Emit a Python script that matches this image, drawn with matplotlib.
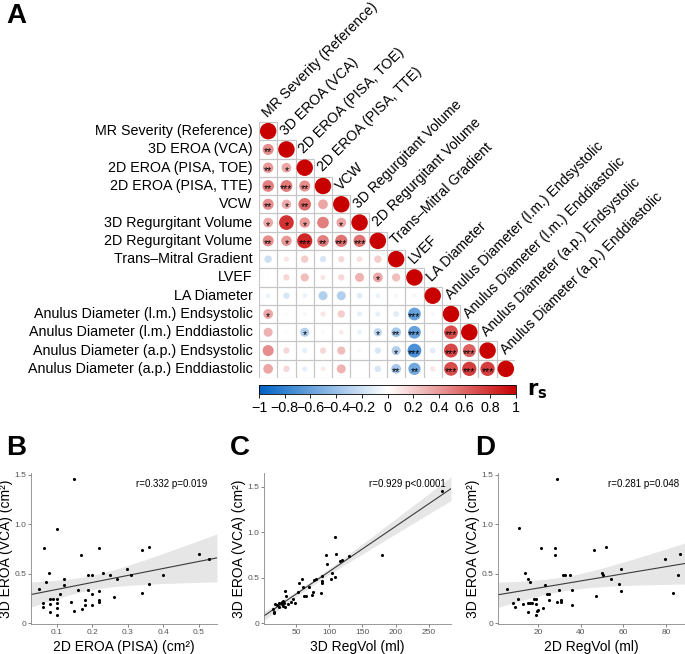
import numpy as np
import matplotlib
matplotlib.use("Agg")
import matplotlib.pyplot as plt
from matplotlib.cm import ScalarMappable
from matplotlib.colors import LinearSegmentedColormap, Normalize
from matplotlib.patches import Circle, Rectangle
from matplotlib.ticker import FuncFormatter

plt.rcParams["font.family"] = ["Liberation Sans", "DejaVu Sans"]

# --- panel A: Spearman correlation matrix (lower triangle) ---
VARS = [
    "MR Severity (Reference)",
    "3D EROA (VCA)",
    "2D EROA (PISA, TOE)",
    "2D EROA (PISA, TTE)",
    "VCW",
    "3D Regurgitant Volume",
    "2D Regurgitant Volume",
    "Trans\u2013Mitral Gradient",
    "LVEF",
    "LA Diameter",
    "Anulus Diameter (l.m.) Endsystolic",
    "Anulus Diameter (l.m.) Enddiastolic",
    "Anulus Diameter (a.p.) Endsystolic",
    "Anulus Diameter (a.p.) Enddiastolic",
]

R_LOWER = [
    [],
    [0.45],
    [0.40, 0.35],
    [0.50, 0.52, 0.45],
    [0.45, 0.33, 0.58, 0.35],
    [0.35, 0.80, 0.40, 0.50, 0.35],
    [0.45, 0.40, 0.85, 0.50, 0.55, 0.55],
    [-0.20, 0.10, 0.20, -0.15, 0.15, 0.12, 0.20],
    [0.02, 0.15, 0.25, 0.10, 0.15, 0.30, 0.35, 0.25],
    [-0.08, -0.15, -0.08, -0.30, -0.30, -0.12, -0.08, -0.05, -0.05],
    [0.35, 0.03, -0.05, 0.10, 0.20, -0.10, -0.10, -0.12, -0.60, -0.05],
    [0.30, 0.02, -0.30, 0.03, 0.08, -0.08, -0.25, -0.35, -0.60, 0.04, 0.70],
    [0.45, 0.15, -0.10, 0.15, 0.25, 0.04, -0.15, -0.30, -0.70, -0.12, 0.72, 0.62],
    [0.35, 0.15, -0.10, 0.08, 0.30, 0.02, -0.15, -0.35, -0.55, 0.10, 0.70, 0.75, 0.75],
]

STARS = [
    [],
    ["**"],
    ["**", "*"],
    ["**", "***", "**"],
    ["**", "*", "**", ""],
    ["*", "*", "*", "", "*"],
    ["**", "*", "***", "**", "***", "***"],
    ["", "", "", "", "", "", ""],
    ["", "", "", "", "", "", "*", ""],
    ["", "", "", "", "", "", "", "", ""],
    ["*", "", "", "", "", "", "", "", "***", ""],
    ["", "", "*", "", "", "", "*", "**", "***", "", "***"],
    ["", "", "", "", "", "", "", "*", "***", "", "***", "***"],
    ["", "", "", "", "", "", "", "**", "**", "", "***", "***", "***"],
]

CBAR_TICKS = [-1, -0.8, -0.6, -0.4, -0.2, 0, 0.2, 0.4, 0.6, 0.8, 1]

# --- panel B: 3D EROA vs 2D EROA (PISA) ---
b_x = [0.149, 0.10, 0.063, 0.169, 0.22, 0.339, 0.359, 0.50, 0.529, 0.40,
       0.359, 0.339, 0.299, 0.309, 0.27, 0.25, 0.23, 0.189, 0.20, 0.079,
       0.12, 0.12, 0.109, 0.05, 0.07, 0.159, 0.189, 0.20, 0.22, 0.26,
       0.22, 0.22, 0.18, 0.18, 0.20, 0.17, 0.149, 0.139, 0.10, 0.10,
       0.10, 0.10, 0.08, 0.08, 0.08, 0.09, 0.06, 0.06]
b_y = [1.456, 0.957, 0.758, 0.688, 0.758, 0.735, 0.768, 0.698, 0.647, 0.489,
       0.398, 0.307, 0.549, 0.482, 0.448, 0.482, 0.506, 0.489, 0.489, 0.506,
       0.448, 0.388, 0.297, 0.344, 0.415, 0.337, 0.337, 0.297, 0.327, 0.263,
       0.230, 0.215, 0.230, 0.180, 0.185, 0.145, 0.125, 0.216, 0.243, 0.202,
       0.152, 0.084, 0.243, 0.195, 0.108, 0.243, 0.202, 0.158]

# --- panel C: 3D EROA vs 3D RegVol ---
c_x = [270, 108, 95, 110, 180, 130, 116, 119, 97, 89,
       89, 89, 104, 108, 102, 80, 77, 87, 59, 54,
       60, 70, 75, 74, 65, 62, 53, 34, 35, 46,
       49, 42, 38, 30, 29, 32, 27, 29, 31, 34,
       25, 22, 19, 17, 17, 16, 24]
c_y = [1.449, 0.951, 0.754, 0.765, 0.754, 0.735, 0.684, 0.690, 0.648, 0.520,
       0.465, 0.440, 0.549, 0.509, 0.490, 0.483, 0.476, 0.330, 0.483, 0.446,
       0.400, 0.400, 0.344, 0.310, 0.300, 0.293, 0.337, 0.348, 0.300, 0.263,
       0.216, 0.227, 0.210, 0.245, 0.233, 0.225, 0.225, 0.210, 0.190, 0.180,
       0.216, 0.198, 0.210, 0.124, 0.106, 0.154, 0.180]

# --- panel D: 3D EROA vs 2D RegVol ---
d_x = [28.9, 11.1, 21.1, 28.0, 28.0, 46.2, 51.8, 79.7, 86.6, 85.7,
       83.5, 58.7, 57.8, 58.7, 49.8, 50.6, 54.0, 47.1, 5.1, 14.0,
       15.1, 16.1, 23.1, 31.7, 32.6, 34.8, 29.9, 35.8, 23.9, 24.9,
       24.9, 28.9, 30.8, 30.8, 35.8, 8.3, 9.2, 10.3, 12.9, 15.1,
       15.9, 17.0, 18.0, 19.0, 19.0, 19.5, 20.0, 22.0, 15.1, 19.0]
d_y = [1.463, 0.962, 0.762, 0.762, 0.691, 0.738, 0.772, 0.650, 0.701, 0.491,
       0.308, 0.549, 0.400, 0.328, 0.508, 0.484, 0.450, 0.271, 0.345, 0.508,
       0.450, 0.417, 0.389, 0.484, 0.491, 0.491, 0.339, 0.339, 0.291, 0.298,
       0.237, 0.213, 0.230, 0.217, 0.179, 0.203, 0.159, 0.247, 0.196, 0.203,
       0.203, 0.203, 0.247, 0.247, 0.196, 0.119, 0.128, 0.149, 0.108, 0.085]

W, H = 685, 654
fig = plt.figure(figsize=(W / 100, H / 100), dpi=100)


def px_axes(x0, y0, x1, y1):
    # axes placed by pixel box (top-left origin)
    return fig.add_axes([x0 / W, 1 - y1 / H, (x1 - x0) / W, (y1 - y0) / H])


cmap = LinearSegmentedColormap.from_list("rs", ["#0062C4", "#FFFFFF", "#C80000"])
norm = Normalize(-1, 1)

# --- Panel A ---
ax = px_axes(259, 122, 515, 378)
n = len(VARS)
ax.set_xlim(-0.5, n - 0.5)
ax.set_ylim(n - 0.5, -0.5)
ax.axis("off")

for i in range(n):
    for j in range(i + 1):
        r = 1.0 if i == j else R_LOWER[i][j]
        ax.add_patch(Rectangle((j - 0.5, i - 0.5), 1, 1, fill=False,
                               ec="#C6C6C6", lw=0.8))
        ax.add_patch(Circle((j, i), 0.45 * np.sqrt(abs(r)),
                            fc=cmap(norm(r)), ec="none"))
        if i != j and STARS[i][j]:
            ax.text(j, i + 0.17, STARS[i][j], ha="center", va="center",
                    fontsize=7.5, color="black")

for i, name in enumerate(VARS):
    ax.text(-0.85, i, name, ha="right", va="center", fontsize=10.3,
            clip_on=False)
    ax.text(i - 0.02, i - 0.75, name, ha="left", va="baseline", rotation=45,
            rotation_mode="anchor", fontsize=10.2, clip_on=False)

cax = px_axes(259, 385, 516, 394)
cb = fig.colorbar(ScalarMappable(norm=norm, cmap=cmap), cax=cax,
                  orientation="horizontal", ticks=CBAR_TICKS)
cb.outline.set_linewidth(0.6)
cb.ax.xaxis.set_major_formatter(
    FuncFormatter(lambda v, p: f"{round(v, 1):g}".replace("-", "\u2212")))
cb.ax.tick_params(labelsize=10.3, length=3, width=0.6, pad=2)
fig.text(527 / W, 1 - 391 / H, r"$\mathbf{r_s}$", fontsize=15, va="center")

fig.text(6 / W, 1 - 3 / H, "A", fontsize=20, fontweight="bold", va="top")


# --- Panels B, C, D ---
def scatter_panel(ax, x, y, xlim, ylim, xticks, yticks, xlabel, note, note_x):
    x = np.asarray(x, float)
    y = np.asarray(y, float)
    slope, intercept = np.polyfit(x, y, 1)
    resid = y - (slope * x + intercept)
    s = np.sqrt(np.sum(resid ** 2) / (len(x) - 2))
    sxx = np.sum((x - x.mean()) ** 2)
    xs = np.linspace(xlim[0], xlim[1], 100)
    yhat = slope * xs + intercept
    half = 2.01 * s * np.sqrt(1 / len(x) + (xs - x.mean()) ** 2 / sxx)
    ax.fill_between(xs, yhat - half, yhat + half, color="#E6E6E6", lw=0)
    ax.plot(xs, yhat, color="#3A3A3A", lw=0.8)
    ax.scatter(x, y, s=5, c="black", lw=0, zorder=3)

    ax.set_xlim(*xlim)
    ax.set_ylim(*ylim)
    ax.set_xticks(xticks)
    ax.set_yticks(yticks)
    ax.set_yticklabels([f"{v:g}" if v == 0 else f"{v:.1f}" for v in yticks])
    for side in ("top", "right"):
        ax.spines[side].set_visible(False)
    for side in ("left", "bottom"):
        ax.spines[side].set_color("#888888")
        ax.spines[side].set_linewidth(0.6)
    ax.tick_params(labelsize=6, colors="#555555", length=2, width=0.5, pad=1.5)
    ax.set_ylabel("3D EROA (VCA) (cm\u00b2)", fontsize=10)
    ax.yaxis.set_label_coords(-0.095, 0.5)
    ax.set_xlabel(xlabel, fontsize=10, labelpad=3)
    ax.text(note_x, 0.93, note, transform=ax.transAxes, ha="right",
            va="center", fontsize=7)


axb = px_axes(31, 473, 217, 624)
scatter_panel(axb, b_x, b_y, (0.027, 0.552), (-0.01, 1.52),
              [0.1, 0.2, 0.3, 0.4, 0.5], [0, 0.5, 1.0, 1.5],
              "2D EROA (PISA) (cm\u00b2)", "r=0.332 p=0.019", 0.95)

axc = px_axes(264, 473, 451, 624)
scatter_panel(axc, c_x, c_y, (2, 283), (-0.01, 1.65),
              [50, 100, 150, 200, 250], [0, 0.5, 1.0, 1.5],
              "3D RegVol (ml)", "r=0.929 p<0.0001", 0.97)

axd = px_axes(498, 473, 685, 624)
scatter_panel(axd, d_x, d_y, (1.1, 88.9), (-0.01, 1.52),
              [20, 40, 60, 80], [0, 0.5, 1.0, 1.5],
              "2D RegVol (ml)", "r=0.281 p=0.048", 0.97)

for letter, xp in (("B", 6), ("C", 230), ("D", 475)):
    fig.text(xp / W, 1 - 435 / H, letter, fontsize=20, fontweight="bold",
             va="top")

fig.savefig("out.png", dpi=100)
